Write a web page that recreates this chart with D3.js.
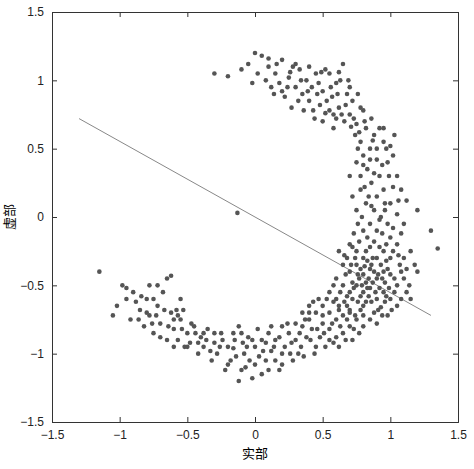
<!DOCTYPE html><html><head><meta charset="utf-8"><script src="https://cdn.jsdelivr.net/npm/d3@7"></script>
<style>body{margin:0;background:#fff}</style></head><body><svg id="c" width="474" height="469"></svg><script>
const xTicks=[-1.5,-1,-0.5,0,0.5,1,1.5];
const yTicks=[-1.5,-1,-0.5,0,0.5,1,1.5];
const lineX=[-1.3,1.3], lineY=[0.72,-0.72];
const pts=[
[-0.3,1.05],[-0.2,1.03],[-0.1,1.08],[-0.05,1.12],[0,1.2],[0.05,1.18],[0.1,1.1],[0.15,1.05],[0.2,1.15],[0.25,1.02],[0.28,1.1],[0.3,0.95],[0.33,1.08],[0.35,0.9],[0.38,1.0],[0.4,0.85],[0.42,0.95],[0.45,1.05],[0.48,0.82],[0.5,0.92],[0.52,1.08],[0.55,0.78],[0.57,0.88],[0.6,0.98],[0.62,0.8],[0.65,1.12],[0.66,0.7],[0.68,0.9],[0.7,0.75],[0.72,0.85],[0.12,0.95],[0.22,0.88],[0.27,0.8],[0.36,0.78],[0.44,0.72],[0.08,1.0],[-0.02,0.98],[0.18,0.98],[0.5,0.7],[0.58,0.65],[0.63,1.0],[0.7,0.95],[0.75,0.68],[0.78,0.8],[0.55,1.05],[0.4,1.1],[0.3,1.12],[0.47,0.98],[0.6,0.72],[0.74,0.6],
[0.78,0.55],[0.82,0.65],[0.85,0.5],[0.88,0.6],[0.9,0.42],[0.95,0.55],[0.8,0.45],[0.75,0.4],[0.83,0.35],[0.92,0.3],[0.98,0.4],[1.02,0.45],[1.05,0.3],[0.86,0.25],[0.9,0.15],[0.95,0.2],[1.0,0.1],[1.08,0.2],[0.78,0.2],[0.82,0.1],[0.88,0.05],[0.93,0.0],[0.98,-0.05],[1.05,0.02],[1.1,-0.05],[0.75,0.05],[0.85,-0.05],[0.8,-0.1],[0.9,-0.1],[1.0,-0.15],[1.2,0.05],[1.12,0.12],[0.7,0.3],[0.72,0.15],[0.97,0.5],[1.03,0.6],[0.86,0.72],[0.8,0.78],[0.92,0.65],[0.76,0.5],
[0.7,-0.2],[0.75,-0.25],[0.8,-0.3],[0.85,-0.22],[0.9,-0.3],[0.95,-0.25],[1.0,-0.3],[1.05,-0.2],[1.1,-0.3],[1.15,-0.25],[1.35,-0.23],[0.65,-0.35],[0.7,-0.4],[0.75,-0.35],[0.8,-0.42],[0.85,-0.38],[0.9,-0.45],[0.95,-0.4],[1.0,-0.42],[1.05,-0.5],[1.1,-0.45],[1.2,-0.4],[0.6,-0.45],[0.65,-0.5],[0.7,-0.55],[0.75,-0.5],[0.8,-0.55],[0.85,-0.52],[0.9,-0.6],[0.95,-0.55],[1.0,-0.6],[1.05,-0.65],[1.12,-0.55],[0.55,-0.55],[0.6,-0.6],[0.68,-0.65],[0.72,-0.6],[0.78,-0.68],[0.82,-0.62],[0.88,-0.7],[0.93,-0.66],[0.98,-0.72],[0.87,-0.48],[0.92,-0.52],[0.82,-0.48],[0.77,-0.45],[0.96,-0.48],[0.84,-0.58],[0.74,-0.3],[0.68,-0.3],[1.15,-0.6],[1.18,-0.35],[1.3,-0.1],[0.62,-0.25],
[0.5,-0.65],[0.55,-0.7],[0.6,-0.75],[0.65,-0.72],[0.7,-0.8],[0.75,-0.75],[0.45,-0.7],[0.5,-0.78],[0.55,-0.82],[0.6,-0.88],[0.65,-0.85],[0.72,-0.9],[0.4,-0.75],[0.42,-0.82],[0.48,-0.88],[0.52,-0.95],[0.58,-0.92],[0.35,-0.8],[0.38,-0.88],[0.45,-0.95],[0.3,-0.78],[0.3,-0.9],[0.32,-1.0],[0.25,-0.85],[0.22,-0.95],[0.28,-1.05],[0.2,-0.8],[0.15,-0.9],[0.62,-0.68],[0.68,-0.75],[0.58,-0.62],[0.8,-0.8],[0.4,-0.65],[0.35,-0.7],[0.47,-0.6],[0.7,-0.7],
[0.1,-0.85],[0.12,-0.98],[0.05,-0.9],[0.0,-0.95],[0.08,-1.05],[0.0,-1.08],[-0.05,-0.88],[-0.08,-1.0],[-0.1,-1.12],[-0.15,-0.9],[-0.18,-1.05],[-0.2,-0.95],[-0.25,-0.85],[-0.28,-1.0],[-0.3,-0.92],[-0.35,-0.82],[-0.38,-0.95],[-0.4,-0.88],[-0.45,-0.8],[-0.48,-0.92],[-0.5,-0.85],[0.15,-1.05],[0.18,-1.12],[0.05,-1.15],[-0.02,-1.18],[-0.12,-1.2],[0.02,-0.82],[-0.12,-0.8],[-0.22,-1.12],[-0.32,-1.05],[-0.42,-1.0],[0.2,-1.0],[-0.06,-0.95],[-0.24,-0.9],[-0.36,-0.9],[0.1,-1.12],
[-0.55,-0.75],[-0.6,-0.82],[-0.62,-0.7],[-0.65,-0.9],[-0.7,-0.78],[-0.72,-0.65],[-0.75,-0.85],[-0.78,-0.72],[-0.8,-0.6],[-0.82,-0.8],[-0.85,-0.68],[-0.88,-0.62],[-0.52,-0.95],[-0.58,-0.68],[-0.68,-0.55],[-0.72,-0.5],[-0.65,-0.45],[-0.62,-0.43],[-0.9,-0.55],[-0.95,-0.6],[-0.98,-0.5],[-1.05,-0.72],[-1.02,-0.65],[-0.92,-0.75],[-0.55,-0.6],[-0.6,-0.95],[-0.75,-0.6],[-1.15,-0.4],[-0.13,0.03]
];
const pts2=[
[0.02,1.05],[0.1,1.16],[0.14,0.9],[0.24,0.95],[0.32,0.85],[0.34,1.0],[0.43,0.78],[0.46,0.9],[0.53,0.85],[0.56,0.95],[0.61,0.9],[0.64,0.75],[0.67,0.82],[0.69,1.0],[0.73,0.72],[0.76,0.9],[0.58,0.75],[0.52,0.76],[0.39,0.92],[0.26,1.06],[0.2,0.92],[0.16,1.12],[0.49,1.06],[0.62,1.06],[0.71,0.66],[0.77,0.62],[0.81,0.7],
[0.8,0.38],[0.85,0.42],[0.9,0.5],[0.94,0.38],[0.99,0.3],[0.84,0.15],[0.88,0.32],[0.96,0.1],[1.02,0.22],[1.06,0.12],[0.79,0.0],[0.86,0.08],[0.92,-0.02],[0.96,0.05],[1.02,-0.08],[1.08,-0.12],[0.83,-0.15],[0.88,-0.18],[0.94,-0.12],[0.97,-0.2],[0.76,-0.05],[0.73,-0.12],[0.78,0.3],[0.81,0.22],[1.0,0.52],[0.87,0.56],[0.95,0.65],
[0.72,-0.22],[0.77,-0.18],[0.82,-0.25],[0.87,-0.3],[0.92,-0.22],[0.97,-0.32],[1.02,-0.25],[1.07,-0.35],[0.67,-0.42],[0.72,-0.48],[0.78,-0.38],[0.83,-0.32],[0.88,-0.4],[0.93,-0.35],[0.98,-0.38],[1.03,-0.45],[1.08,-0.4],[0.63,-0.55],[0.68,-0.58],[0.73,-0.52],[0.79,-0.5],[0.84,-0.45],[0.89,-0.55],[0.94,-0.45],[0.99,-0.52],[1.03,-0.55],[1.08,-0.6],[0.58,-0.5],[0.62,-0.65],[0.66,-0.62],[0.7,-0.68],[0.76,-0.62],[0.8,-0.65],[0.86,-0.62],[0.91,-0.68],[0.96,-0.62],[1.01,-0.68],[0.74,-0.72],[0.8,-0.72],[0.85,-0.75],[0.9,-0.78],[0.78,-0.58],[0.83,-0.52],[0.91,-0.42],[0.86,-0.35],[0.81,-0.36],[0.76,-0.42],[0.71,-0.35],[0.66,-0.28],[0.97,-0.58],[1.06,-0.28],[1.12,-0.38],[1.14,-0.5],[0.94,-0.72],
[0.43,-0.62],[0.5,-0.72],[0.53,-0.6],[0.57,-0.78],[0.63,-0.8],[0.67,-0.9],[0.73,-0.82],[0.77,-0.85],[0.46,-0.82],[0.51,-0.85],[0.55,-0.9],[0.62,-0.95],[0.37,-0.75],[0.41,-0.9],[0.44,-1.0],[0.34,-0.95],[0.27,-0.92],[0.24,-0.78],[0.18,-0.88],[0.26,-1.0],[0.36,-1.02],[0.4,-0.7],[0.33,-0.85],[0.2,-1.08],
[0.12,-0.8],[0.06,-0.98],[0.03,-1.02],[-0.02,-0.9],[-0.04,-1.05],[-0.09,-0.92],[-0.14,-1.02],[-0.16,-0.85],[-0.2,-1.08],[-0.26,-0.95],[-0.3,-0.85],[-0.33,-0.98],[-0.38,-0.85],[-0.42,-0.92],[-0.44,-0.85],[-0.47,-0.78],[-0.5,-0.95],[0.08,-0.92],[-0.1,-0.85],[-0.16,-0.96],[-0.07,-1.1],[0.14,-0.95],
[-0.54,-0.82],[-0.57,-0.9],[-0.6,-0.75],[-0.64,-0.8],[-0.67,-0.68],[-0.7,-0.88],[-0.73,-0.72],[-0.76,-0.78],[-0.8,-0.7],[-0.84,-0.58],[-0.86,-0.75],[-0.57,-0.72],[-0.53,-0.68],[-0.78,-0.5],[-0.95,-0.52]
];
const svg=d3.select("#c");
const L=52,R=458,T=12,B=422;
const x=d3.scaleLinear().domain([-1.5,1.5]).range([L,R]);
const y=d3.scaleLinear().domain([-1.5,1.5]).range([B,T]);
const f=d=>d3.format("")(d);
const font="'Liberation Serif','Noto Sans CJK SC',serif";
svg.append("g").attr("transform",`translate(0,${B})`).call(d3.axisBottom(x).tickValues(xTicks).tickSize(-5).tickPadding(8).tickFormat(f));
svg.append("g").attr("transform",`translate(0,${T})`).call(d3.axisTop(x).tickValues(xTicks).tickSize(-5).tickFormat(""));
svg.append("g").attr("transform",`translate(${L},0)`).call(d3.axisLeft(y).tickValues(yTicks).tickSize(-5).tickPadding(8).tickFormat(f));
svg.append("g").attr("transform",`translate(${R},0)`).call(d3.axisRight(y).tickValues(yTicks).tickSize(-5).tickFormat(""));
svg.selectAll(".domain,.tick line").attr("stroke","#333");
svg.selectAll(".tick text").attr("font-size",12).attr("fill","#222").attr("font-family","Arial,sans-serif");
svg.append("line").attr("x1",x(lineX[0])).attr("y1",y(lineY[0])).attr("x2",x(lineX[1])).attr("y2",y(lineY[1])).attr("stroke","#888").attr("stroke-width",1);
svg.append("g").selectAll("circle").data(pts.concat(pts2)).join("circle").attr("cx",d=>x(d[0])).attr("cy",d=>y(d[1])).attr("r",2.3).attr("fill","#555");
svg.append("text").attr("x",(L+R)/2).attr("y",458).attr("text-anchor","middle").attr("font-size",13).attr("font-family",font).text("实部");
svg.append("text").attr("transform",`translate(14,${(T+B)/2}) rotate(-90)`).attr("text-anchor","middle").attr("font-size",13).attr("font-family",font).text("虚部");
</script></body></html>
